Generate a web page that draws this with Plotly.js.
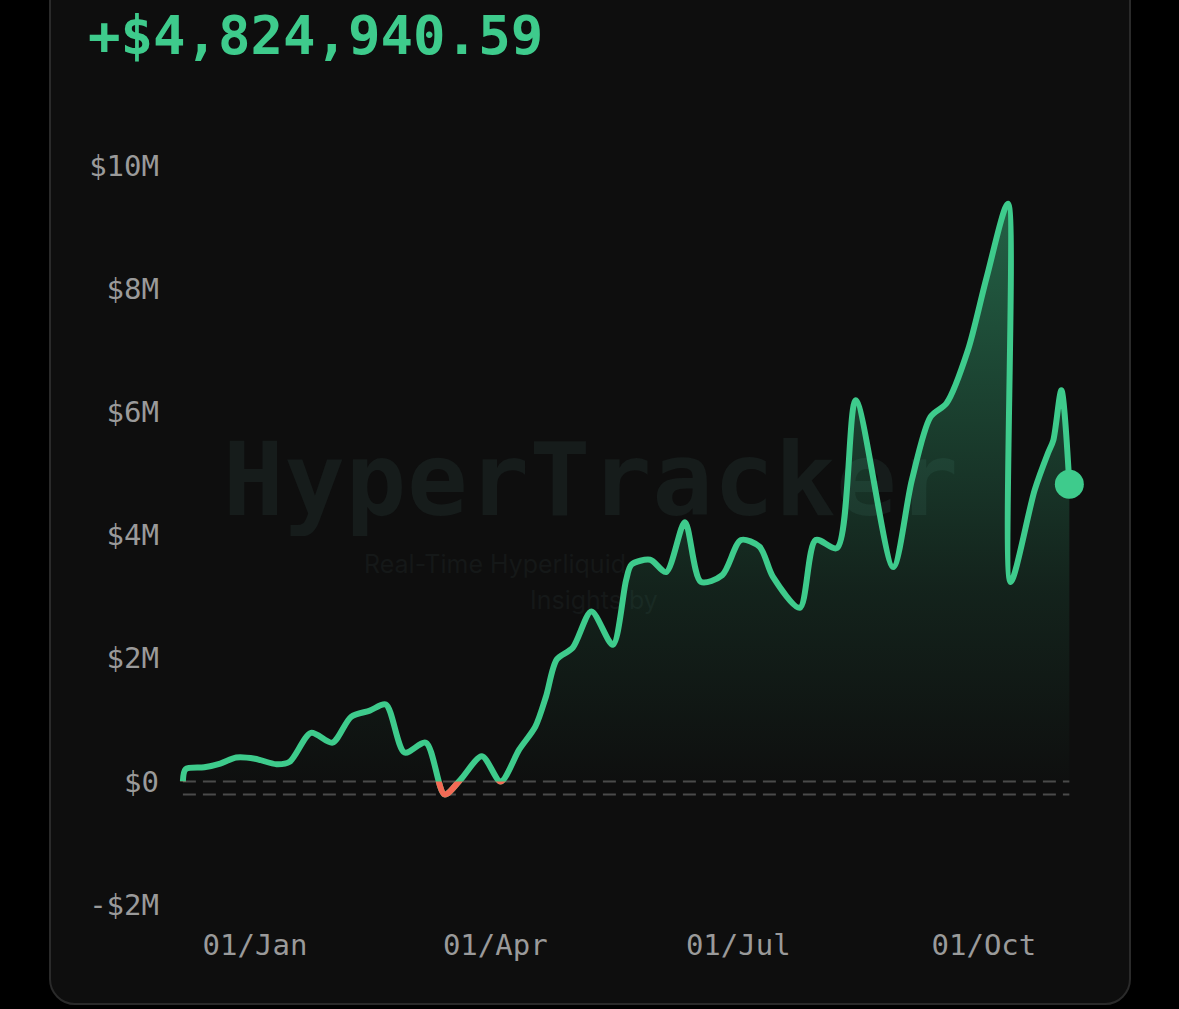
<!DOCTYPE html>
<html>
<head>
<meta charset="utf-8">
<script src="https://cdn.plot.ly/plotly-3.0.1.min.js"></script>
<style>
  html, body { margin: 0; padding: 0; background: #000; width: 1179px; height: 1009px; overflow: hidden; }
  #card { position: absolute; left: 49px; top: -40px; width: 1082px; height: 1045px; background: #0e0e0e;
          border: 2px solid #2a2a2a; border-radius: 26px; box-sizing: border-box; }
  #wm { position: absolute; left: 0; top: 0; width: 1179px; height: 1009px; z-index: 1; pointer-events: none; }
  #wm .big { position: absolute; left: 223px; top: 421px; font-family: "DejaVu Sans Mono", monospace; font-weight: bold;
             font-size: 101px; color: #161c1b; letter-spacing: 0.5px; white-space: nowrap; }
  #wm .sub { position: absolute; font-family: Inter, "Noto Sans", sans-serif; font-size: 25px; color: #151818; white-space: nowrap; }
  #chart { position: absolute; left: 0; top: 0; width: 1179px; height: 1009px; z-index: 2; }
</style>
</head>
<body>
<div id="card"></div>
<div id="wm">
  <div class="big">HyperTracker</div>
  <div class="sub" style="left:364px; top:549px;">Real-Time Hyperliquid</div>
  <div class="sub" style="left:530px; top:585px;">Insights by</div>
</div>
<div id="chart"></div>
<script>
// ---- data (PnL in $ millions) ----
const dates = [
  "2024-12-05","2024-12-06","2024-12-13","2024-12-19","2024-12-25","2025-01-01","2025-01-09","2025-01-14",
  "2025-01-22","2025-01-30","2025-02-06","2025-02-13","2025-02-19","2025-02-26","2025-03-06","2025-03-13",
  "2025-03-19","2025-03-27","2025-04-03","2025-04-10","2025-04-16","2025-04-20","2025-04-24","2025-04-30",
  "2025-05-07","2025-05-15","2025-05-20","2025-05-22","2025-05-29","2025-06-04","2025-06-11","2025-06-17",
  "2025-06-25","2025-07-02","2025-07-09","2025-07-14","2025-07-24","2025-07-30","2025-08-07","2025-08-14",
  "2025-08-28","2025-09-04","2025-09-11","2025-09-17","2025-09-25","2025-10-02","2025-10-10","2025-10-11",
  "2025-10-20","2025-10-25","2025-10-27","2025-10-30","2025-11-02"
];
const pnl = [
  0.0, 0.20, 0.23, 0.29, 0.39, 0.37, 0.28, 0.32,
  0.79, 0.63, 1.05, 1.15, 1.25, 0.47, 0.63, -0.21,
  0.03, 0.41, 0.0, 0.52, 0.89, 1.38, 1.98, 2.17,
  2.76, 2.22, 3.27, 3.52, 3.60, 3.40, 4.21, 3.24,
  3.35, 3.92, 3.81, 3.32, 2.82, 3.92, 3.79, 6.19,
  3.48, 4.89, 5.92, 6.14, 7.00, 8.18, 9.38, 3.24,
  4.73, 5.33, 5.54, 6.35, 4.82494059
];
const totalPnlText = "+$4,824,940.59";
const yTickVals = [-2, 0, 2, 4, 6, 8, 10];
const yTickText = ["-$2M", "$0", "$2M", "$4M", "$6M", "$8M", "$10M"];
const xTickVals = ["2025-01-01", "2025-04-01", "2025-07-01", "2025-10-01"];
const xTickText = ["01/Jan", "01/Apr", "01/Jul", "01/Oct"];

// ---- styling ----
const GREEN = "#3ecb8c";
const RED = "#f26a55";
const MONO = "DejaVu Sans Mono, monospace";
const yMin = -2.2, yMax = 10.3;
const minVal = Math.min.apply(null, pnl);
const lastIdx = dates.length - 1;

const DAY = 86400000;
const jan1 = Date.parse("2025-01-01T00:00:00Z");
const xRange = [new Date(jan1 - 31.83 * DAY).toISOString(), new Date(jan1 + 310.86 * DAY).toISOString()];

const lineShape = { shape: "spline", smoothing: 0.8, width: 6 };

const traces = [
  {
    x: dates, y: pnl, type: "scatter", mode: "lines",
    line: Object.assign({ color: GREEN }, lineShape),
    fill: "tozeroy",
    fillgradient: { type: "vertical", colorscale: [[0, "rgba(62,203,140,0.0)"], [0.35, "rgba(62,203,140,0.11)"], [1, "rgba(62,203,140,0.44)"]] },
    hoverinfo: "skip", xaxis: "x", yaxis: "y"
  },
  {
    x: dates, y: pnl, type: "scatter", mode: "lines",
    line: Object.assign({ color: RED }, lineShape),
    hoverinfo: "skip", xaxis: "x", yaxis: "y2"
  },
  {
    x: [dates[lastIdx]], y: [pnl[lastIdx]], type: "scatter", mode: "markers",
    marker: { color: GREEN, size: 29 },
    hoverinfo: "skip", xaxis: "x", yaxis: "y"
  }
];

const zeroFrac = (0 - yMin) / (yMax - yMin);

const layout = {
  width: 1179, height: 1009,
  paper_bgcolor: "rgba(0,0,0,0)", plot_bgcolor: "rgba(0,0,0,0)",
  margin: { l: 170, r: 94, t: 147, b: 92 },
  showlegend: false,
  title: {
    text: totalPnlText, xref: "container", yref: "container",
    x: 88 / 1179, xanchor: "left", y: 1 - 35 / 1009, yanchor: "middle",
    font: { family: MONO, size: 54, color: GREEN, weight: "bold" }
  },
  xaxis: {
    type: "date", range: xRange, showgrid: false, zeroline: false, showline: false,
    tickvals: xTickVals, ticktext: xTickText, ticks: "",
    tickfont: { family: MONO, size: 29, color: "#9a9a9a" }, ticklabelstandoff: 8,
    fixedrange: true
  },
  yaxis: {
    range: [yMin, yMax], showgrid: false, zeroline: false, showline: false,
    tickvals: yTickVals, ticktext: yTickText, ticks: "",
    tickfont: { family: MONO, size: 29, color: "#9a9a9a" }, ticklabelstandoff: 10,
    domain: [0, 1], fixedrange: true
  },
  yaxis2: {
    range: [yMin, 0], domain: [0, zeroFrac], anchor: "x",
    showgrid: false, zeroline: false, showline: false, showticklabels: false, ticks: "",
    fixedrange: true
  },
  shapes: [
    { type: "line", xref: "x", yref: "y", x0: dates[0], x1: dates[lastIdx], y0: 0, y1: 0,
      line: { color: "#4a4a4a", width: 2, dash: "13px,7px" }, layer: "below" },
    { type: "line", xref: "x", yref: "y", x0: dates[0], x1: dates[lastIdx], y0: minVal, y1: minVal,
      line: { color: "#4a4a4a", width: 2, dash: "13px,7px" }, layer: "below" }
  ]
};

Plotly.newPlot("chart", traces, layout, { displayModeBar: false, staticPlot: true });
</script>
</body>
</html>
